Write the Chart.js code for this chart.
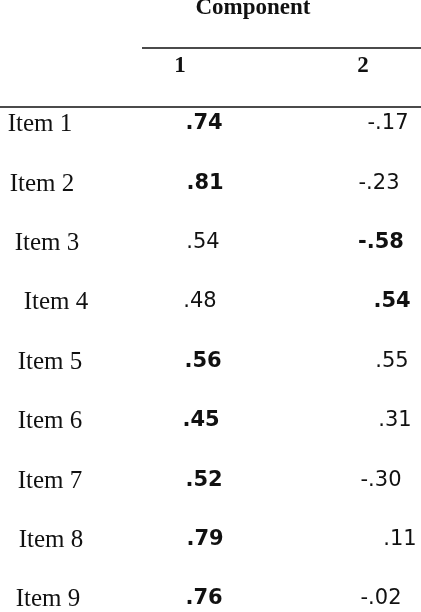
<!DOCTYPE html>
<html><head><meta charset="utf-8">
<script src="https://cdn.jsdelivr.net/npm/chart.js@4/dist/chart.umd.min.js"></script>
<style>html,body{margin:0;padding:0;background:#fff}#wrap{width:421px;height:612px}</style>
</head><body><div id="wrap"><canvas id="c"></canvas></div>
<script>
// table content
const items = ['Item 1','Item 2','Item 3','Item 4','Item 5','Item 6','Item 7','Item 8','Item 9'];
const comp1 = ['.74','.81','.54','.48','.56','.45','.52','.79','.76'];
const comp2 = ['-.17','-.23','-.58','.54','.55','.31','-.30','.11','-.02'];
const bold1 = [true,true,false,false,true,true,true,true,true];
const bold2 = [false,false,true,true,false,false,false,false,false];
const headers = ['1','2'];

// layout in pixel-like scale units (0..421 x, 0..612 y)
const rowY = [124,184,243,302,362,421,481,540,599];
const itemX = [40,42,47,56,50,50,50,51,48];
const c1X = [204,205,203,200,203,201,204,205,204];
const c2X = [388,379,381,392,392,395,381,400,381];

const tablePlugin = {
  id: 'table',
  afterDraw(chart) {
    const { ctx, scales: { x, y } } = chart;
    ctx.save();
    ctx.fillStyle = '#111';
    ctx.strokeStyle = '#111';
    ctx.textAlign = 'center';
    ctx.textBaseline = 'middle';
    ctx.font = 'bold 23px "Liberation Serif"';
    ctx.fillText('Component', x.getPixelForValue(253), y.getPixelForValue(8));
    ctx.fillText(headers[0], x.getPixelForValue(180), y.getPixelForValue(66));
    ctx.fillText(headers[1], x.getPixelForValue(363), y.getPixelForValue(66));
    ctx.lineWidth = 1.5;
    ctx.beginPath();
    ctx.moveTo(x.getPixelForValue(142), y.getPixelForValue(48));
    ctx.lineTo(x.getPixelForValue(421), y.getPixelForValue(48));
    ctx.moveTo(x.getPixelForValue(0), y.getPixelForValue(107));
    ctx.lineTo(x.getPixelForValue(421), y.getPixelForValue(107));
    ctx.stroke();
    items.forEach((it, i) => {
      const py = y.getPixelForValue(rowY[i]);
      ctx.font = '25px "Liberation Serif"';
      ctx.fillText(it, x.getPixelForValue(itemX[i]), py);
      ctx.font = (bold1[i] ? 'bold ' : '') + '21px "DejaVu Sans"';
      ctx.fillText(comp1[i], x.getPixelForValue(c1X[i]), py);
      ctx.font = (bold2[i] ? 'bold ' : '') + '21px "DejaVu Sans"';
      ctx.fillText(comp2[i], x.getPixelForValue(c2X[i]), py);
    });
    ctx.restore();
  }
};

new Chart(document.getElementById('c'), {
  type: 'scatter',
  data: { datasets: [{ data: [], pointRadius: 0 }] },
  options: {
    responsive: true,
    maintainAspectRatio: false,
    animation: false,
    layout: { padding: 0 },
    plugins: { legend: { display: false }, tooltip: { enabled: false } },
    scales: {
      x: { type: 'linear', min: 0, max: 421, display: false },
      y: { type: 'linear', min: 0, max: 612, reverse: true, display: false }
    }
  },
  plugins: [tablePlugin]
});
</script></body></html>
